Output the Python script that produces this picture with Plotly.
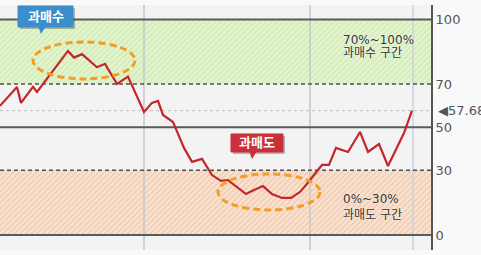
import plotly.graph_objects as go

# ---- data ----
day = [0, 17, 21, 33, 37, 68, 74, 82, 97, 105, 117, 128, 144, 152, 158, 163, 173, 184,
       192, 202, 212, 221, 228, 238, 246, 254, 263, 272, 282, 291, 300, 306, 322, 329,
       336, 348, 360, 368, 379, 388, 404, 412]
value = [59.9, 68.7, 61.3, 68.7, 66.4, 85.4, 82.3, 83.9, 77.8, 79.4, 70.1, 73.5, 57.1,
         61.3, 62.2, 55.7, 52.4, 40.4, 33.9, 35.3, 27.8, 25.1, 25.5, 21.8, 19.0, 20.9,
         22.7, 19.0, 17.2, 17.2, 20.0, 23.2, 32.5, 32.5, 40.4, 38.5, 47.8, 38.5, 42.2,
         32.0, 47.3, 57.68]
tick_vals = [0, 30, 50, 70, 100]
tick_text = ["0", "30", "50", "70", "100"]
month_lines = [144, 310]
last_line = 413
last_value = 57.68
over_band = [70, 100]
under_band = [0, 30]

X0, X1 = 0, 431
Y0, Y1 = -6.96, 106.7
FONT = "DejaVu Sans, Noto Sans CJK KR, sans-serif"

fig = go.Figure()

def band(lo, hi, bg, fg):
    fig.add_trace(go.Scatter(
        x=[X0, X1, X1, X0, X0], y=[lo, lo, hi, hi, lo], mode="lines",
        line=dict(width=0), fill="toself", fillcolor=bg,
        fillpattern=dict(shape="/", bgcolor=bg, fgcolor=fg, size=4, solidity=0.4),
        hoverinfo="skip", showlegend=False))

band(over_band[0], over_band[1], "#e4f4d0", "#c0e29a")
band(under_band[0], under_band[1], "#f9e3d2", "#eab58c")

def hline(yv, color, width, dash="solid"):
    fig.add_trace(go.Scatter(x=[X0, X1], y=[yv, yv], mode="lines",
                             line=dict(color=color, width=width, dash=dash),
                             hoverinfo="skip", showlegend=False))

def vline(xv, color, width):
    fig.add_trace(go.Scatter(x=[xv, xv], y=[Y0, Y1], mode="lines",
                             line=dict(color=color, width=width),
                             hoverinfo="skip", showlegend=False))

for xv in month_lines:
    vline(xv, "#c6c6c6", 1.5)
vline(last_line, "#c5d3e2", 1.5)

hline(last_value, "#bdbdbd", 1, "dot")
for yv in (100, 50, 0):
    hline(yv, "#5a5a5a", 2)
for yv in (70, 30):
    hline(yv, "#505050", 1.5, "4px,3px")

fig.add_trace(go.Scatter(x=day, y=value, mode="lines",
                         line=dict(color="#c4262e", width=2.2),
                         hoverinfo="skip", showlegend=False))

def py(p):
    return (235 - p) / 2.155

shapes = []
# dashed ellipses
shapes.append(dict(type="circle", xref="x", yref="y", x0=33, x1=135, y0=py(79), y1=py(42),
                   line=dict(color="#f29e26", width=3, dash="7px,4px"), layer="above"))
shapes.append(dict(type="circle", xref="x", yref="y", x0=218, x1=320, y0=py(210), y1=py(174),
                   line=dict(color="#f29e26", width=3, dash="7px,4px"), layer="above"))

def callout(x0, x1, ytop, ybot, tip, color):
    shapes.append(dict(type="rect", xref="x", yref="y", x0=x0 + 2, x1=x1 + 2,
                       y0=py(ybot + 2), y1=py(ytop + 2), fillcolor="rgba(0,0,0,0.25)",
                       line=dict(width=0), layer="above"))
    tx, ty = tip
    path = f"M {tx - 3},{py(ybot - 1)} L {tx + 5},{py(ybot - 1)} L {tx},{py(ty)} Z"
    shapes.append(dict(type="path", xref="x", yref="y", path=path, fillcolor=color,
                       line=dict(width=0), layer="above"))
    shapes.append(dict(type="rect", xref="x", yref="y", x0=x0, x1=x1,
                       y0=py(ybot), y1=py(ytop), fillcolor=color,
                       line=dict(width=1, color=color), layer="above"))

callout(18, 73, 6, 27, (41, 34), "#3b8dcc")
callout(231, 283, 134, 152, (252, 159), "#c9303a")

ann = []
ann.append(dict(x=45.5, y=py(16.5), xref="x", yref="y", text="<b>과매수</b>", showarrow=False,
                font=dict(family=FONT, size=13, color="white")))
ann.append(dict(x=257, y=py(143), xref="x", yref="y", text="<b>과매도</b>", showarrow=False,
                font=dict(family=FONT, size=13, color="white")))
for txt, yy in (("70%~100%", 40), ("과매수 구간", 53), ("0%~30%", 199), ("과매도 구간", 215)):
    ann.append(dict(x=341, y=py(yy), xref="x", yref="y", text=txt, showarrow=False,
                    xanchor="left", yanchor="middle",
                    font=dict(family=FONT, size=12, color="#333333",
                              shadow="0px 0px 2px #ffffff")))
ann.append(dict(x=1, y=last_value, xref="paper", yref="y", text="◀" + str(last_value),
                showarrow=False, xanchor="left", yanchor="middle", xshift=5,
                font=dict(family=FONT, size=13, color="#555555")))

fig.update_layout(
    width=481, height=255, margin=dict(l=0, r=50, t=5, b=5),
    paper_bgcolor="#f9f9f9", plot_bgcolor="#f3f3f3",
    showlegend=False, shapes=shapes, annotations=ann,
    xaxis=dict(range=[X0, X1], visible=False, fixedrange=True),
    yaxis=dict(range=[Y0, Y1], side="right", showgrid=False, zeroline=False,
               showline=True, linecolor="#555555", linewidth=2, ticks="",
               tickvals=tick_vals, ticktext=tick_text,
               tickfont=dict(family=FONT, size=13, color="#555555")),
)
fig.write_html("out.html")
